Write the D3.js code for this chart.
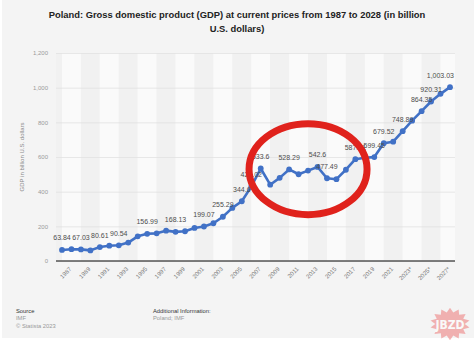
<!DOCTYPE html>
<html>
<head>
<meta charset="utf-8">
<script src="https://cdnjs.cloudflare.com/ajax/libs/d3/7.8.5/d3.min.js"></script>
<style>
  body { margin: 0; background: #fff; }
  text { font-family: "Liberation Sans", Arial, sans-serif; }
</style>
</head>
<body>
<div id="container"></div>
<script>
// GDP of Poland, billion U.S. dollars (IMF), 1987 - 2028
var years = d3.range(1987, 2029);
var gdp = [63.84, 68.2, 67.03, 61.2, 80.61, 88.4, 90.54, 106.2, 142.5, 156.99, 159.4, 175.1, 168.13,
    171.6, 190.6, 199.07, 217.7, 255.29, 306.4, 344.6, 429.02, 533.6, 440.1, 479.6, 528.29, 500.6,
    521.4, 542.6, 477.49, 472.1, 526.5, 587.41, 596.1, 599.45, 679.52, 688.3, 748.89, 809.7, 864.35,
    920.31, 964.5, 1003.03];
// points that carry a value label
var labelledYears = [1987, 1989, 1991, 1993, 1996, 1999, 2002, 2004, 2006, 2007, 2008, 2011, 2014,
    2015, 2018, 2020, 2021, 2023, 2025, 2026, 2028];
var tickYears = d3.range(1987, 2029, 2);
var tickLabels = ["1987", "1989", "1991", "1993", "1995", "1997", "1999", "2001", "2003", "2005", "2007",
    "2009", "2011", "2013", "2015", "2017", "2019", "2021", "2023*", "2025*", "2027*"];
var yTicks = [0, 200, 400, 600, 800, 1000, 1200];

var svgElementAttr = {
    width: 474,
    height: 343
};
var plot = { left: 56, right: 455, top: 53, bottom: 261 };

var svg = d3.select("#container").append("svg")
    .attr("width", svgElementAttr.width).attr("height", svgElementAttr.height);

svg.append("rect").attr("x", 2).attr("y", 0).attr("width", 472).attr("height", 338).attr("fill", "#f4f4f4");

var x = d3.scaleLinear().domain([1987, 2028]).range([62, 450]);
var y = d3.scaleLinear().domain([0, 1200]).range([plot.bottom, plot.top]);

// title
var title = svg.append("text").attr("text-anchor", "middle").attr("font-weight", "bold")
    .attr("font-size", 9.4).attr("fill", "#222");
title.append("tspan").attr("x", 237).attr("y", 18)
    .text("Poland: Gross domestic product (GDP) at current prices from 1987 to 2028 (in billion");
title.append("tspan").attr("x", 237).attr("y", 31.5).text("U.S. dollars)");

// alternating column shading
var bandEdges = [plot.left].concat(tickYears.map(function (d) { return x(d); })).concat([plot.right]);
svg.append("g").selectAll("rect")
    .data(d3.pairs(bandEdges))
    .enter().append("rect")
    .attr("x", function (d) { return d[0]; })
    .attr("width", function (d) { return d[1] - d[0]; })
    .attr("y", plot.top)
    .attr("height", plot.bottom - plot.top)
    .attr("fill", function (d, i) { return i % 2 ? "#fafafa" : "#f1f1f1"; });

// horizontal grid + y labels
var yAxis = svg.append("g").attr("transform", "translate(" + plot.left + ",0)")
    .call(d3.axisLeft(y).tickValues(yTicks).tickSize(-(plot.right - plot.left)).tickPadding(8)
        .tickFormat(d3.format(",")));
yAxis.select(".domain").remove();
yAxis.selectAll(".tick line").attr("stroke", "#e2e2e2").attr("stroke-width", 0.8);
yAxis.selectAll(".tick text").attr("fill", "#9a9a9a").attr("font-size", 6)
    .style("font-family", "'Liberation Sans', Arial, sans-serif");

svg.append("text").attr("transform", "translate(24," + (plot.top + plot.bottom) / 2 + ") rotate(-90)")
    .attr("text-anchor", "middle").attr("font-size", 6).attr("fill", "#8a8a8a")
    .text("GDP in billion U.S. dollars");

// x axis
var xAxis = svg.append("g").attr("transform", "translate(0," + plot.bottom + ")")
    .call(d3.axisBottom(x).tickValues(tickYears).tickSize(0).tickPadding(7)
        .tickFormat(function (d, i) { return tickLabels[i]; }));
xAxis.select(".domain").attr("d", "M" + plot.left + ",0H" + plot.right)
    .attr("stroke", "#555").attr("stroke-width", 1.4);
xAxis.selectAll(".tick text")
    .attr("font-size", 6).attr("fill", "#7a7a7a")
    .style("font-family", "'Liberation Sans', Arial, sans-serif")
    .attr("text-anchor", "end")
    .attr("dy", "0.35em")
    .attr("transform", "translate(3,2) rotate(-45)");

// series
var series = years.map(function (yr, i) { return { year: yr, value: gdp[i] }; });
var line = d3.line().x(function (d) { return x(d.year); }).y(function (d) { return y(d.value); });
svg.append("path").datum(series)
    .attr("d", line).attr("fill", "none").attr("stroke", "#4171c6").attr("stroke-width", 2.6)
    .attr("stroke-linejoin", "round");
svg.append("g").selectAll("circle").data(series).enter().append("circle")
    .attr("cx", function (d) { return x(d.year); })
    .attr("cy", function (d) { return y(d.value); })
    .attr("r", 2.9).attr("fill", "#4171c6");

// value labels, kept inside the plot on the right
var valueFmt = d3.format(",");
svg.append("g").selectAll("text")
    .data(series.filter(function (d) { return labelledYears.indexOf(d.year) >= 0; }))
    .enter().append("text")
    .attr("font-size", 7).attr("fill", "#4d4d4d").attr("text-anchor", "middle")
    .attr("y", function (d) { return y(d.value) - 9.5; })
    .text(function (d) { return valueFmt(d.value); })
    .attr("x", function (d) {
        var w = this.getComputedTextLength();
        return Math.min(x(d.year), plot.right - 1 - w / 2);
    });

// red marker round the 2008-2018 stretch
svg.append("ellipse")
    .attr("cx", x(2013)).attr("cy", y(530)).attr("rx", 59).attr("ry", 45.5)
    .attr("fill", "none").attr("stroke", "#e0221c").attr("stroke-width", 7);

// footer
var foot = svg.append("g").attr("font-size", 5.8);
foot.append("text").attr("x", 16).attr("y", 313).attr("fill", "#333").text("Source");
foot.append("text").attr("x", 16).attr("y", 320).attr("fill", "#999").text("IMF");
foot.append("text").attr("x", 16).attr("y", 328).attr("fill", "#999").text("© Statista 2023");
foot.append("text").attr("x", 153).attr("y", 313).attr("fill", "#333").text("Additional Information:");
foot.append("text").attr("x", 153).attr("y", 320).attr("fill", "#999").text("Poland; IMF");

// watermark badge
var badge = svg.append("g").attr("transform", "translate(450,324)").attr("opacity", 0.5);
var starPts = d3.range(28).map(function (i) {
    var a = i * Math.PI / 14, r = i % 2 ? 14 : 19;
    return [Math.sin(a) * r * 1.05, -Math.cos(a) * r * 0.85];
});
badge.append("polygon").attr("points", starPts.join(" ")).attr("fill", "#ee6f6f");
badge.append("text").attr("text-anchor", "middle").attr("y", 4.5).attr("font-size", 12)
    .attr("font-weight", "bold").attr("fill", "#fff").style("font-family", "'DejaVu Sans Condensed', sans-serif")
    .text("JBZD");
</script>
</body>
</html>
